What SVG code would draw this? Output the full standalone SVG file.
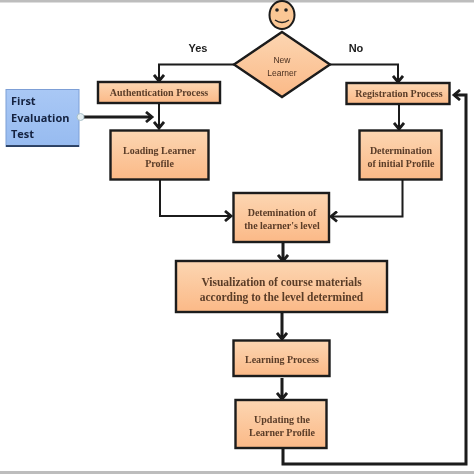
<svg xmlns="http://www.w3.org/2000/svg" width="474" height="474" viewBox="0 0 474 474">
<style>
.n{stroke:#1a1a1a;stroke-width:2.400;fill:url(#o)}
.t{font-family:"Liberation Serif",serif;font-weight:bold;font-size:10px;fill:#5a3c28;text-anchor:middle}
.s{font-family:"Liberation Sans",sans-serif;font-size:8.500px;fill:#4a3020;text-anchor:middle}
.v{font-size:11.500px}
.l{font-family:"Liberation Sans",sans-serif;font-weight:bold;font-size:11px;fill:#1c1c1c;text-anchor:middle}
.b{font-family:"Open Sans","Liberation Sans",sans-serif;font-weight:bold;font-size:11px;fill:#12213f}
.c{fill:none;stroke:#1a1a1a;stroke-width:2}
.h{stroke-width:3}
</style>
<defs>
<linearGradient id="o" x1="0" y1="0" x2="0" y2="1"><stop offset="0" stop-color="#fcd6b2"/><stop offset="1" stop-color="#fbb987"/></linearGradient>
<linearGradient id="bl" x1="0" y1="0" x2="0" y2="1"><stop offset="0" stop-color="#a9c8f5"/><stop offset="1" stop-color="#97bbf0"/></linearGradient>
<marker id="a" markerUnits="userSpaceOnUse" markerWidth="12" markerHeight="12" refX="8" refY="6" orient="auto"><path d="M2 1L8 6L2 11" fill="none" stroke="#1a1a1a" stroke-width="2.800"/></marker>
<filter id="soft" x="0" y="0" width="100%" height="100%"><feGaussianBlur stdDeviation="0.350"/></filter>
</defs>
<g filter="url(#soft)">
<rect width="474" height="2.500" fill="#bdbdbd"/>
<rect y="471" width="474" height="3" fill="#bdbdbd"/>
<g id="connectors">
<path class="c" marker-end="url(#a)" d="M235 64.500H159V81"/>
<path class="c" marker-end="url(#a)" d="M330 64.500H398V82"/>
<path class="c" marker-end="url(#a)" d="M159 104V128"/>
<path class="c h" marker-end="url(#a)" d="M84 117H152"/>
<path class="c" marker-end="url(#a)" d="M399 105V129"/>
<path class="c" marker-end="url(#a)" d="M160 180V216H231"/>
<path class="c" marker-end="url(#a)" d="M402.500 180V216.500H331"/>
<path class="c h" marker-end="url(#a)" d="M283 243V261"/>
<path class="c h" marker-end="url(#a)" d="M282 313V339"/>
<path class="c h" marker-end="url(#a)" d="M282 378V399"/>
<path class="c h" marker-end="url(#a)" d="M283 449V464H466V95H454"/>
</g>
<g id="smiley">
<ellipse cx="282" cy="15" rx="12.500" ry="14" fill="#fbc795" stroke="#1a1a1a" stroke-width="2"/>
<circle cx="277" cy="10" r="1.800" fill="#222"/><circle cx="286" cy="10" r="1.800" fill="#222"/>
<path d="M275 20Q282 25 289 20" fill="none" stroke="#222" stroke-width="1.500"/>
</g>
<g id="new-learner">
<path class="n" d="M282 32L330 64.500L282 97L234 64.500Z"/>
<text class="s" x="282" y="62.500">New</text>
<text class="s" x="282" y="76">Learner</text>
</g>
<text class="l" x="198" y="52">Yes</text>
<text class="l" x="356" y="52">No</text>
<g id="authentication">
<rect class="n" x="98" y="82" width="122" height="21"/>
<text class="t" x="159" y="96">Authentication Process</text>
</g>
<g id="registration">
<rect class="n" x="346.500" y="83" width="103" height="21"/>
<text class="t" x="399" y="97">Registration Process</text>
</g>
<g id="first-evaluation">
<rect x="6" y="89.500" width="73" height="57" fill="url(#bl)" stroke="#7d9fd6"/>
<path d="M6 146H79" stroke="#10203c" stroke-width="1.500"/>
<text class="b" x="11" y="105">First</text>
<text class="b" x="11" y="122">Evaluation</text>
<text class="b" x="11" y="138">Test</text>
<circle cx="80.500" cy="117" r="3.500" fill="#e4eef2" stroke="#a9c0c8"/>
</g>
<g id="loading">
<rect class="n" x="110.500" y="130.500" width="98" height="49"/>
<text class="t" x="159.500" y="154">Loading Learner</text>
<text class="t" x="159.500" y="167">Profile</text>
</g>
<g id="initial-profile">
<rect class="n" x="359.500" y="130.500" width="82" height="49"/>
<text class="t" x="401" y="154">Determination</text>
<text class="t" x="401" y="167">of initial Profile</text>
</g>
<g id="level">
<rect class="n" x="233.500" y="193" width="95.500" height="49"/>
<text class="t" x="282" y="216">Detemination of</text>
<text class="t" x="282" y="229">the learner's level</text>
</g>
<g id="visualization">
<rect class="n" x="176" y="261" width="211" height="51"/>
<text class="t v" x="281.500" y="286">Visualization of course materials</text>
<text class="t v" x="281.500" y="301">according to the level determined</text>
</g>
<g id="learning">
<rect class="n" x="233.500" y="340.500" width="96" height="35.500"/>
<text class="t" x="282" y="363">Learning Process</text>
</g>
<g id="updating">
<rect class="n" x="235.500" y="400" width="91" height="48"/>
<text class="t" x="282" y="423">Updating the</text>
<text class="t" x="282" y="436">Learner Profile</text>
</g>
</g>
</svg>
